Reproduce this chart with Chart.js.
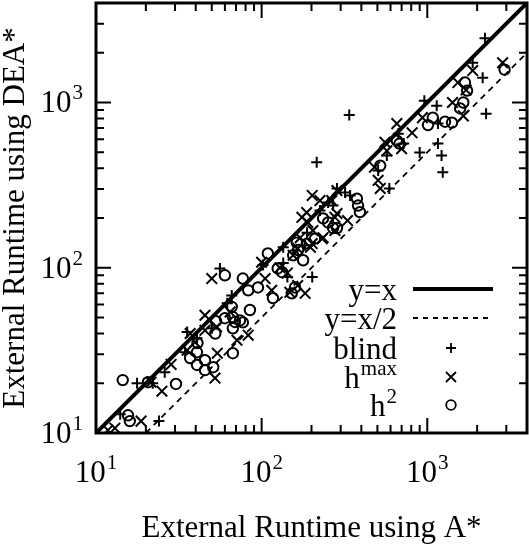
<!DOCTYPE html>
<html>
<head>
<meta charset="utf-8">
<script src="https://cdn.jsdelivr.net/npm/chart.js@4.4.1/dist/chart.umd.min.js"></script>
<style>
  html, body { margin: 0; padding: 0; background: #fff; }
  #wrap { width: 529px; height: 544px; }
</style>
</head>
<body>
<div id="wrap"><canvas id="runtimeChart"></canvas></div>
<script>
// axis range and tick labels (10^1, 10^2, 10^3)
var axisMin = 10, axisMax = 4000;
var majorTicks = [10, 100, 1000];
var majorBase = '10';
var majorExp = ['1', '2', '3'];
var minorTicks = [20, 30, 40, 50, 60, 70, 80, 90, 200, 300, 400, 500, 600, 700, 800, 900, 2000, 3000];

// reference lines y=x and y=x/2
var diagLine = [[10, 10], [4000, 4000]];
var halfLine = [[20, 10], [4000, 2000]];

// [A* runtime, DEA* runtime]
var blindPts = [[14.0,13.0],[24,11.8],[17.7,20],[22,20],[26,23.3],[35.5,40.8],[34.5,30.8],[40.7,37.5],
  [50,43],[62,61],[56,99],[102,104],[143,88],[135,133],[183,137],[188,163],[202,88],[225,222],
  [252,248],[319,285],[215,435],[285,302],[342,274],[270,238],[338,840],[668,648],[570,478],
  [505,388],[590,302],[960,1025],[1140,955],[1160,745],[720,564],[1160,564],[900,498],[1220,478],
  [1240,378],[1880,1740],[2160,1410],[2265,856],[2230,2450],[66,68],[135,107]];

var hmaxPts = [[11.8,10.4],[13,10.7],[18.7,11.8],[25,17.9],[28.4,26],[39.6,35.4],[35.5,31.7],
  [45.5,41.8],[45.5,51.6],[52.3,21.5],[54,30.4],[71,36.4],[83,39.1],[64.5,54],[50,86],[105,86],
  [115,73],[129,100],[148,71],[183,70],[171,152],[155,119],[197,133],[235,152],[204,168],[175,202],
  [187,216],[277,168],[202,274],[225,255],[285,293],[330,193],[265,255],[285,213],[655,745],
  [810,655],[555,575],[700,525],[570,510],[480,406],[505,338],[520,302],[935,810],[1420,1000],
  [1650,830],[1530,1320],[1715,1190],[1880,1560],[2850,1740],[165,78],[143,93],[100,108],
  [165,131],[202,140],[190,188],[277,202],[232,150],[21.5,20.3],[37,40],[53.5,44]];

var h2Pts = [[14.5,20.9],[20.6,20.3],[30.4,19.8],[15.6,12.8],[16,11.8],[37,28.4],[40.7,30.8],
  [40.7,25.8],[45.5,27.6],[45.5,24],[51,25],[67,30.4],[53,47.5],[60,49.5],[67,50.3],[67,43],
  [74,48],[77,46.7],[85,55.5],[60,90],[77,86],[83,73],[95,76],[109,122],[117,65.5],[152,70],
  [125,99],[163,142],[178,111],[166,128],[210,150],[188,140],[235,199],[252,188],[285,174],
  [270,174],[376,262],[382,238],[392,217],[655,588],[680,564],[520,415],[1080,810],[1010,730],
  [1280,765],[1410,755],[1650,1000],[1580,920],[1690,1320],[1740,1180],[2930,1580],[133,94],
  [155,119],[159,76],[66,58],[69,47],[52.5,40],[41,35]];

// legend text (base + superscript)
var legendBase = ['y=x', 'y=x/2', 'blind', 'h', 'h'];
var legendSup = ['', '', '', 'max', '2'];

var xTitle = 'External Runtime using A*';
var yTitle = 'External Runtime using DEA*';

var FONT = "'Liberation Serif', 'DejaVu Serif', serif";

function toXY(list) {
  return list.map(function(p) { return { x: p[0], y: p[1] }; });
}

// "10" with a raised exponent, align = 'center' | 'right'
function supText(ctx, base, sup, x, y, align) {
  ctx.font = '31px ' + FONT;
  var wb = ctx.measureText(base).width;
  ctx.font = '21px ' + FONT;
  var ws = sup ? ctx.measureText(sup).width + 1 : 0;
  var total = wb + ws;
  var x0 = align === 'center' ? x - total / 2 : x - total;
  ctx.textAlign = 'left';
  ctx.textBaseline = 'alphabetic';
  ctx.font = '31px ' + FONT;
  ctx.fillText(base, x0, y);
  if (sup) {
    ctx.font = '21px ' + FONT;
    ctx.fillText(sup, x0 + wb + 1, y - 13);
  }
}

var gnuFrame = {
  id: 'gnuFrame',
  afterDraw: function(chart) {
    var ctx = chart.ctx, a = chart.chartArea;
    var sx = chart.scales.x, sy = chart.scales.y;
    ctx.save();
    ctx.strokeStyle = '#000';
    ctx.fillStyle = '#000';

    // inward ticks on all four sides
    ctx.lineWidth = 2;
    function tick(v, len) {
      if (v <= axisMin || v >= axisMax) return;
      var px = sx.getPixelForValue(v), py = sy.getPixelForValue(v);
      ctx.beginPath();
      ctx.moveTo(px, a.bottom); ctx.lineTo(px, a.bottom - len);
      ctx.moveTo(px, a.top); ctx.lineTo(px, a.top + len);
      ctx.moveTo(a.left, py); ctx.lineTo(a.left + len, py);
      ctx.moveTo(a.right, py); ctx.lineTo(a.right - len, py);
      ctx.stroke();
    }
    majorTicks.forEach(function(v) { tick(v, 15); });
    minorTicks.forEach(function(v) { tick(v, 8); });

    // frame
    ctx.lineWidth = 3;
    ctx.strokeRect(a.left, a.top, a.right - a.left, a.bottom - a.top);

    // tick labels
    majorTicks.forEach(function(v, i) {
      supText(ctx, majorBase, majorExp[i], sx.getPixelForValue(v), a.bottom + 49, 'center');
      supText(ctx, majorBase, majorExp[i], a.left - 13, sy.getPixelForValue(v) + 10, 'right');
    });

    // axis titles
    ctx.font = '31px ' + FONT;
    ctx.textAlign = 'center';
    ctx.textBaseline = 'alphabetic';
    ctx.fillText(xTitle, (a.left + a.right) / 2, a.bottom + 104);
    ctx.save();
    ctx.translate(24, (a.top + a.bottom) / 2);
    ctx.rotate(-Math.PI / 2);
    ctx.fillText(yTitle, 0, 0);
    ctx.restore();

    // legend
    var textRight = a.right - 130, sampleL = a.right - 114, sampleR = a.right - 34;
    var markX = (sampleL + sampleR) / 2 - 2;
    var rowY = [289, 318, 348, 377, 405];
    legendBase.forEach(function(label, i) {
      var cy = rowY[i];
      supText(ctx, label, legendSup[i], textRight, cy + 11, 'right');
      ctx.beginPath();
      if (i === 0) {
        ctx.lineWidth = 4; ctx.setLineDash([]);
        ctx.moveTo(sampleL, cy); ctx.lineTo(sampleR, cy);
      } else if (i === 1) {
        ctx.lineWidth = 1.8; ctx.setLineDash([5, 5]);
        ctx.moveTo(sampleL, cy); ctx.lineTo(sampleR, cy);
      } else if (i === 2) {
        ctx.lineWidth = 1.8; ctx.setLineDash([]);
        ctx.moveTo(markX - 5, cy); ctx.lineTo(markX + 5, cy);
        ctx.moveTo(markX, cy - 5); ctx.lineTo(markX, cy + 5);
      } else if (i === 3) {
        ctx.lineWidth = 1.8; ctx.setLineDash([]);
        ctx.moveTo(markX - 5, cy - 5); ctx.lineTo(markX + 5, cy + 5);
        ctx.moveTo(markX + 5, cy - 5); ctx.lineTo(markX - 5, cy + 5);
      } else {
        ctx.lineWidth = 1.8; ctx.setLineDash([]);
        ctx.arc(markX, cy, 4.8, 0, Math.PI * 2);
      }
      ctx.stroke();
    });
    ctx.setLineDash([]);
    ctx.restore();
  }
};

var ctx = document.getElementById('runtimeChart');
var runtimeChart = new Chart(ctx, {
  type: 'scatter',
  data: {
    datasets: [
      { label: 'y=x', data: toXY(diagLine), showLine: true, borderColor: '#000',
        borderWidth: 4, pointRadius: 0, order: 5 },
      { label: 'y=x/2', data: toXY(halfLine), showLine: true, borderColor: '#000',
        borderWidth: 1.8, borderDash: [6, 5], pointRadius: 0, order: 4 },
      { label: 'blind', data: toXY(blindPts), pointStyle: 'cross', pointRadius: 5.5,
        borderColor: '#000', pointBorderWidth: 2, order: 3 },
      { label: 'hmax', data: toXY(hmaxPts), pointStyle: 'crossRot', pointRadius: 7.5,
        borderColor: '#000', pointBorderWidth: 2, order: 2 },
      { label: 'h2', data: toXY(h2Pts), pointStyle: 'circle', pointRadius: 5.2,
        borderColor: '#000', backgroundColor: 'rgba(0,0,0,0)', pointBorderWidth: 2, order: 1 }
    ]
  },
  options: {
    responsive: true,
    maintainAspectRatio: false,
    animation: false,
    layout: { autoPadding: false, padding: { left: 96, right: 2, top: 3, bottom: 111 } },
    scales: {
      x: { type: 'logarithmic', min: axisMin, max: axisMax, display: false },
      y: { type: 'logarithmic', min: axisMin, max: axisMax, display: false }
    },
    plugins: {
      legend: { display: false },
      tooltip: { enabled: false }
    }
  },
  plugins: [gnuFrame]
});
</script>
</body>
</html>
